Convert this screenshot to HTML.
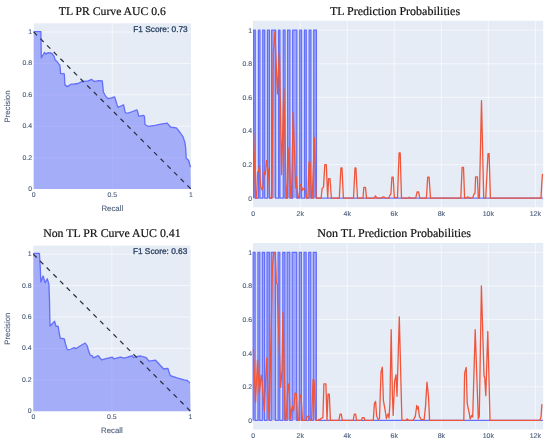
<!DOCTYPE html>
<html lang="en">
<head>
<meta charset="utf-8">
<title>PR Curves and Prediction Probabilities</title>
<style>
html,body{margin:0;padding:0;background:#fff;}
body{width:550px;height:445px;overflow:hidden;}
svg{display:block;}
text{text-rendering:geometricPrecision;}
.gr{stroke:#fff;stroke-width:0.6;}
.tk{font-family:"Liberation Sans",sans-serif;font-size:6.9px;fill:#2a3f5f;stroke:#2a3f5f;stroke-width:.12;opacity:.85;}
.ax{font-family:"Liberation Sans",sans-serif;font-size:7.8px;fill:#2a3f5f;stroke:#2a3f5f;stroke-width:.12;opacity:.85;}
.an{font-family:"Liberation Sans",sans-serif;font-size:8.3px;fill:#2a3f5f;stroke:#2a3f5f;stroke-width:.3;}
.ti{font-family:"Liberation Serif",serif;fill:#111;stroke:#111;stroke-width:.2;}
</style>
</head>
<body>
<svg width="550" height="445" viewBox="0 0 550 445">
<rect width="550" height="445" fill="#fff"/>
<rect x="33.7" y="23.4" width="157.2" height="165.6" fill="#E5ECF6"/>
<line x1="33.7" x2="190.9" y1="157.6" y2="157.6" class="gr"/>
<line x1="33.7" x2="190.9" y1="126.2" y2="126.2" class="gr"/>
<line x1="33.7" x2="190.9" y1="94.8" y2="94.8" class="gr"/>
<line x1="33.7" x2="190.9" y1="63.4" y2="63.4" class="gr"/>
<line x1="33.7" x2="190.9" y1="32" y2="32" class="gr"/>
<line x1="112.3" x2="112.3" y1="23.4" y2="189" class="gr"/>
<path d="M33.7,31.7 L40.9,31.7 L41.3,57.8 L43,55 L44.6,52.4 L45.8,54.2 L47.8,52.7 L50,53 L51.9,53.5 L54.1,56.4 L55.1,60 L57,61.5 L58.5,63.7 L59.9,65.1 L60.6,73.4 L64.3,73.8 L64.9,84.9 L67.4,86.6 L70.9,84.2 L74.5,84 L78.2,83.5 L81.1,81.9 L84,81.4 L88.2,80.8 L91.8,79.4 L93.4,81 L95.2,81.4 L98.6,80.6 L102.3,80.8 L103.4,92 L105,95 L106.7,97.5 L108.5,98.7 L111.5,97.8 L114.5,96.8 L115.6,100 L116.9,104.4 L118,107.3 L120.8,106 L123.6,104.8 L124.2,108 L125.2,112.3 L126.5,113.2 L128.1,113.2 L132.5,111.5 L137,109.9 L137.8,112.5 L138.7,116.2 L141,115.8 L143.2,115.4 L144.4,116 L145,124.5 L146.5,125.5 L148.5,126.3 L155,125.3 L161,124.2 L167.3,123.1 L169,125.3 L170.8,127.2 L173.5,127.5 L176.3,127.9 L178.4,130.3 L180.4,133 L183.1,136.9 L184.9,142.5 L185.7,148.5 L186.2,158.2 L188.7,160.5 L189.6,164 L190.5,167.2 L190.9,189 L33.7,189 Z" fill="rgba(99,110,250,0.5)"/>
<path d="M33.7,31.7 L40.9,31.7 L41.3,57.8 L43,55 L44.6,52.4 L45.8,54.2 L47.8,52.7 L50,53 L51.9,53.5 L54.1,56.4 L55.1,60 L57,61.5 L58.5,63.7 L59.9,65.1 L60.6,73.4 L64.3,73.8 L64.9,84.9 L67.4,86.6 L70.9,84.2 L74.5,84 L78.2,83.5 L81.1,81.9 L84,81.4 L88.2,80.8 L91.8,79.4 L93.4,81 L95.2,81.4 L98.6,80.6 L102.3,80.8 L103.4,92 L105,95 L106.7,97.5 L108.5,98.7 L111.5,97.8 L114.5,96.8 L115.6,100 L116.9,104.4 L118,107.3 L120.8,106 L123.6,104.8 L124.2,108 L125.2,112.3 L126.5,113.2 L128.1,113.2 L132.5,111.5 L137,109.9 L137.8,112.5 L138.7,116.2 L141,115.8 L143.2,115.4 L144.4,116 L145,124.5 L146.5,125.5 L148.5,126.3 L155,125.3 L161,124.2 L167.3,123.1 L169,125.3 L170.8,127.2 L173.5,127.5 L176.3,127.9 L178.4,130.3 L180.4,133 L183.1,136.9 L184.9,142.5 L185.7,148.5 L186.2,158.2 L188.7,160.5 L189.6,164 L190.5,167.2" fill="none" stroke="#636EFA" stroke-width="1.3" stroke-linejoin="round"/>
<line x1="33.7" y1="32" x2="190.9" y2="189" stroke="#2c3142" stroke-width="1.25" stroke-dasharray="4.72 4.72"/>
<text x="32" y="191" class="tk" text-anchor="end">0</text>
<text x="32" y="159.6" class="tk" text-anchor="end">0.2</text>
<text x="32" y="128.2" class="tk" text-anchor="end">0.4</text>
<text x="32" y="96.8" class="tk" text-anchor="end">0.6</text>
<text x="32" y="65.4" class="tk" text-anchor="end">0.8</text>
<text x="32" y="34" class="tk" text-anchor="end">1</text>
<text x="33.7" y="196.7" class="tk" text-anchor="middle">0</text>
<text x="112.3" y="196.7" class="tk" text-anchor="middle">0.5</text>
<text x="190.9" y="196.7" class="tk" text-anchor="middle">1</text>
<text x="112.3" y="211" class="ax" text-anchor="middle">Recall</text>
<text transform="translate(10.3,106.5) rotate(-90)" class="ax" text-anchor="middle">Precision</text>
<text x="187.7" y="32" class="an" text-anchor="end">F1 Score: 0.73</text>
<text x="112.3" y="15" class="ti" font-size="11.7" text-anchor="middle">TL PR Curve AUC 0.6</text>
<rect x="253" y="20.8" width="290.2" height="186.5" fill="#E5ECF6"/>
<line x1="253" x2="543.2" y1="164.6" y2="164.6" class="gr"/>
<line x1="253" x2="543.2" y1="131" y2="131" class="gr"/>
<line x1="253" x2="543.2" y1="97.4" y2="97.4" class="gr"/>
<line x1="253" x2="543.2" y1="63.8" y2="63.8" class="gr"/>
<line x1="253" x2="543.2" y1="30.2" y2="30.2" class="gr"/>
<line x1="300.22" x2="300.22" y1="20.8" y2="207.3" class="gr"/>
<line x1="347.24" x2="347.24" y1="20.8" y2="207.3" class="gr"/>
<line x1="394.26" x2="394.26" y1="20.8" y2="207.3" class="gr"/>
<line x1="441.28" x2="441.28" y1="20.8" y2="207.3" class="gr"/>
<line x1="488.3" x2="488.3" y1="20.8" y2="207.3" class="gr"/>
<line x1="535.32" x2="535.32" y1="20.8" y2="207.3" class="gr"/>
<line x1="253" x2="543.2" y1="198.2" y2="198.2" stroke="#fff" stroke-width="1"/>
<rect x="253.1" y="30.2" width="63.8" height="168" fill="rgba(99,110,250,0.10)"/>
<path d="M253.6,198.2 L253.6,30.2 L255.25,30.2 L255.25,198.2 L258.4,198.2 L258.4,30.2 L259.95,30.2 L259.95,198.2 L262.75,198.2 L262.75,30.2 L264.75,30.2 L264.75,198.2 L267.45,198.2 L267.45,30.2 L269.45,30.2 L269.45,198.2 L271.65,198.2 L271.65,30.2 L275.65,30.2 L275.65,198.2 L278.55,198.2 L278.55,30.2 L279.95,30.2 L279.95,198.2 L283.25,198.2 L283.25,30.2 L285.05,30.2 L285.05,198.2 L287.6,198.2 L287.6,30.2 L289.95,30.2 L289.95,198.2 L292.65,198.2 L292.65,30.2 L296.85,30.2 L296.85,198.2 L299.75,198.2 L299.75,30.2 L301.55,30.2 L301.55,198.2 L304.45,198.2 L304.45,30.2 L306.25,30.2 L306.25,198.2 L309.15,198.2 L309.15,30.2 L310.95,30.2 L310.95,198.2 L313.75,198.2 L313.75,30.2 L316.45,30.2 L316.45,198.2 L542.9,198.2" fill="rgba(99,110,250,0.5)" stroke="#636EFA" stroke-width="1.2" stroke-linejoin="miter"/>
<path d="M253.5,132.68 L254.5,164.6 L255.7,198.2 L256.5,198.2 L257.6,172.16 L258.5,171.32 L259.5,165.27 L260.6,186.44 L262,189.8 L263,186.44 L264.3,171.32 L265.3,174.68 L266.6,160.4 L267.7,167.96 L268.4,169.64 L269.8,198.2 L271.9,198.2 L273.3,53.72 L274.9,31.88 L277.4,94.04 L279.4,52.04 L281.6,174.68 L283.8,89 L286.3,198.2 L287,198.2 L288.9,147.8 L290.9,198.2 L291.5,198.2 L293.1,112.52 L295.7,188.12 L296.4,177.2 L297.7,198.2 L299,196.52 L300.2,184.76 L301.5,186.44 L302.5,190.3 L303.5,188.46 L305.2,188.96 L306.6,198.2 L307.9,198.2 L309,161.91 L310,161.91 L311.4,198.2 L312.2,198.2 L314.4,137.72 L316.1,198.2 L321.1,198.2 L322.1,188.46 L323.5,187.11 L324.8,164.6 L326.3,164.6 L327.7,198.2 L328.6,178.54 L330,178.54 L331.4,198.2 L339.3,198.2 L340.9,167.96 L342,167.96 L343.4,198.2 L353.5,198.2 L355,167.96 L355.9,167.96 L357.5,198.2 L363,198.2 L363.8,187.45 L365.5,187.45 L366.5,198.2 L374.3,198.2 L375.4,195.85 L377,198.2 L380.5,198.2 L383.6,196.86 L386,198.2 L388.9,198.2 L389.8,195.34 L390.9,194 L391.9,177.2 L393.2,177.2 L394.3,197.53 L397.5,197.53 L399.1,152.84 L400.2,152.84 L401.5,198.2 L408,198.2 L409.3,197.19 L410.7,198.2 L415.7,198.2 L417.1,191.98 L418.6,191.98 L419.8,198.2 L426.4,198.2 L427.7,177.2 L429.1,177.2 L430.5,198.2 L460.8,198.2 L462.1,167.29 L463.5,167.29 L464.6,198.2 L466.2,198.2 L467.5,196.86 L470.2,198.2 L472.9,197.53 L474,194 L475,193.16 L475.6,176.86 L477.4,176.86 L478.3,198.2 L479.4,198.2 L481.5,100.76 L483.7,198.2 L485.7,198.2 L488,153.68 L489.1,153.68 L490.4,198.2 L541,198.2 L541.8,183.08 L542.5,173.84" fill="none" stroke="#EF553B" stroke-width="1.3" stroke-linejoin="round"/>
<text x="252" y="200.6" class="tk" text-anchor="end">0</text>
<text x="252" y="167" class="tk" text-anchor="end">0.2</text>
<text x="252" y="133.4" class="tk" text-anchor="end">0.4</text>
<text x="252" y="99.8" class="tk" text-anchor="end">0.6</text>
<text x="252" y="66.2" class="tk" text-anchor="end">0.8</text>
<text x="252" y="32.6" class="tk" text-anchor="end">1</text>
<text x="253.2" y="215.7" class="tk" text-anchor="middle">0</text>
<text x="300.22" y="215.7" class="tk" text-anchor="middle">2k</text>
<text x="347.24" y="215.7" class="tk" text-anchor="middle">4k</text>
<text x="394.26" y="215.7" class="tk" text-anchor="middle">6k</text>
<text x="441.28" y="215.7" class="tk" text-anchor="middle">8k</text>
<text x="488.3" y="215.7" class="tk" text-anchor="middle">10k</text>
<text x="535.32" y="215.7" class="tk" text-anchor="middle">12k</text>
<text x="395" y="14.6" class="ti" font-size="12" text-anchor="middle">TL Prediction Probabilities</text>
<rect x="33.3" y="245.6" width="157.2" height="165.6" fill="#E5ECF6"/>
<line x1="33.3" x2="190.5" y1="379.8" y2="379.8" class="gr"/>
<line x1="33.3" x2="190.5" y1="348.4" y2="348.4" class="gr"/>
<line x1="33.3" x2="190.5" y1="317" y2="317" class="gr"/>
<line x1="33.3" x2="190.5" y1="285.6" y2="285.6" class="gr"/>
<line x1="33.3" x2="190.5" y1="254.2" y2="254.2" class="gr"/>
<line x1="111.9" x2="111.9" y1="245.6" y2="411.2" class="gr"/>
<path d="M33.3,253.4 L39.4,253.4 L40.3,268 L40.8,282.1 L43.1,276 L45.1,282.8 L47.3,278.7 L48.9,284.1 L49.5,300 L49.8,318 L50.1,326 L52.5,323.5 L54.6,321.3 L55.9,326 L58.2,326.5 L59,332 L60.2,338.1 L64.3,338.8 L65.5,344 L67,348.9 L68.3,350 L71,349 L74.4,347.6 L75.7,348.7 L80,346 L85.2,343 L87.3,346 L88.3,350 L90.1,355 L92.1,355.7 L93.5,357.8 L98.2,355.7 L100,358 L101.6,359.8 L107,358.3 L112.4,357.1 L113.7,358.8 L120.4,357.1 L124.5,358.2 L128,357 L132.6,355.7 L133.3,357.6 L137,356.5 L140.8,356 L146.2,357.6 L148.9,361.2 L155.6,360.2 L159.5,364.5 L163.7,369 L167.8,368.3 L169,372 L170.4,375.7 L177,377.8 L183.9,379.8 L187.3,380.5 L190,383.1 L190.5,411.2 L33.3,411.2 Z" fill="rgba(99,110,250,0.5)"/>
<path d="M33.3,253.4 L39.4,253.4 L40.3,268 L40.8,282.1 L43.1,276 L45.1,282.8 L47.3,278.7 L48.9,284.1 L49.5,300 L49.8,318 L50.1,326 L52.5,323.5 L54.6,321.3 L55.9,326 L58.2,326.5 L59,332 L60.2,338.1 L64.3,338.8 L65.5,344 L67,348.9 L68.3,350 L71,349 L74.4,347.6 L75.7,348.7 L80,346 L85.2,343 L87.3,346 L88.3,350 L90.1,355 L92.1,355.7 L93.5,357.8 L98.2,355.7 L100,358 L101.6,359.8 L107,358.3 L112.4,357.1 L113.7,358.8 L120.4,357.1 L124.5,358.2 L128,357 L132.6,355.7 L133.3,357.6 L137,356.5 L140.8,356 L146.2,357.6 L148.9,361.2 L155.6,360.2 L159.5,364.5 L163.7,369 L167.8,368.3 L169,372 L170.4,375.7 L177,377.8 L183.9,379.8 L187.3,380.5 L190,383.1" fill="none" stroke="#636EFA" stroke-width="1.3" stroke-linejoin="round"/>
<line x1="33.3" y1="254.2" x2="190.5" y2="411.2" stroke="#2c3142" stroke-width="1.25" stroke-dasharray="4.72 4.72"/>
<text x="31.6" y="413.2" class="tk" text-anchor="end">0</text>
<text x="31.6" y="381.8" class="tk" text-anchor="end">0.2</text>
<text x="31.6" y="350.4" class="tk" text-anchor="end">0.4</text>
<text x="31.6" y="319" class="tk" text-anchor="end">0.6</text>
<text x="31.6" y="287.6" class="tk" text-anchor="end">0.8</text>
<text x="31.6" y="256.2" class="tk" text-anchor="end">1</text>
<text x="33.3" y="418.9" class="tk" text-anchor="middle">0</text>
<text x="111.9" y="418.9" class="tk" text-anchor="middle">0.5</text>
<text x="190.5" y="418.9" class="tk" text-anchor="middle">1</text>
<text x="111.9" y="433.2" class="ax" text-anchor="middle">Recall</text>
<text transform="translate(10.3,328.7) rotate(-90)" class="ax" text-anchor="middle">Precision</text>
<text x="187.3" y="254.2" class="an" text-anchor="end">F1 Score: 0.63</text>
<text x="111.9" y="237.2" class="ti" font-size="11.85" text-anchor="middle">Non TL PR Curve AUC 0.41</text>
<rect x="253" y="243" width="290.2" height="186.5" fill="#E5ECF6"/>
<line x1="253" x2="543.2" y1="386.8" y2="386.8" class="gr"/>
<line x1="253" x2="543.2" y1="353.2" y2="353.2" class="gr"/>
<line x1="253" x2="543.2" y1="319.6" y2="319.6" class="gr"/>
<line x1="253" x2="543.2" y1="286" y2="286" class="gr"/>
<line x1="253" x2="543.2" y1="252.4" y2="252.4" class="gr"/>
<line x1="300.22" x2="300.22" y1="243" y2="429.5" class="gr"/>
<line x1="347.24" x2="347.24" y1="243" y2="429.5" class="gr"/>
<line x1="394.26" x2="394.26" y1="243" y2="429.5" class="gr"/>
<line x1="441.28" x2="441.28" y1="243" y2="429.5" class="gr"/>
<line x1="488.3" x2="488.3" y1="243" y2="429.5" class="gr"/>
<line x1="535.32" x2="535.32" y1="243" y2="429.5" class="gr"/>
<line x1="253" x2="543.2" y1="420.4" y2="420.4" stroke="#fff" stroke-width="1"/>
<rect x="253.1" y="252.4" width="63.8" height="168" fill="rgba(99,110,250,0.10)"/>
<path d="M253.15,420.4 L253.15,252.4 L255.1,252.4 L255.1,420.4 L257.95,420.4 L257.95,252.4 L259.8,252.4 L259.8,420.4 L262.3,420.4 L262.3,252.4 L264.6,252.4 L264.6,420.4 L267,420.4 L267,252.4 L269.3,252.4 L269.3,420.4 L271.2,420.4 L271.2,252.4 L275.5,252.4 L275.5,420.4 L278.1,420.4 L278.1,252.4 L279.8,252.4 L279.8,420.4 L282.8,420.4 L282.8,252.4 L284.9,252.4 L284.9,420.4 L287.15,420.4 L287.15,252.4 L289.8,252.4 L289.8,420.4 L292.2,420.4 L292.2,252.4 L296.7,252.4 L296.7,420.4 L299.3,420.4 L299.3,252.4 L301.4,252.4 L301.4,420.4 L304,420.4 L304,252.4 L306.1,252.4 L306.1,420.4 L308.7,420.4 L308.7,252.4 L310.8,252.4 L310.8,420.4 L313.3,420.4 L313.3,252.4 L316.3,252.4 L316.3,420.4 L542.9,420.4" fill="rgba(99,110,250,0.5)" stroke="#636EFA" stroke-width="1.2" stroke-linejoin="miter"/>
<path d="M253.4,348.66 L254.5,378.4 L255.5,402.76 L257.5,360.26 L259.3,393.52 L261.2,375.04 L262,380.08 L263,395.2 L264.3,410.99 L266.6,358.24 L269.1,417.88 L269.3,420.4 L270.5,359.92 L271.9,295.24 L272.4,267.52 L273.5,254.08 L274.1,252.4 L275.2,253.24 L275.8,267.52 L276.3,283.31 L277.4,284.32 L277.6,302.8 L279.7,359.92 L280.7,387.47 L282,370 L283,312.38 L285.2,420.4 L286.2,418.72 L287.9,383.44 L288.9,387.47 L290.6,419.22 L291.6,409.65 L292.5,406.12 L293.6,410.99 L295,393.02 L296.4,393.52 L297.5,420.4 L298.8,420.4 L299.8,395.2 L301.1,395.7 L302.5,420.4 L305.9,420.4 L307.3,416.54 L308.9,415.86 L310,420.4 L311.6,420.4 L313.1,379.24 L314.1,380.58 L315.7,420.4 L318.2,420.4 L318.9,419.22 L320.2,419.9 L321.1,418.38 L322.9,417.71 L323.9,383.78 L325.9,383.78 L327,420.4 L328,394.19 L329.3,394.19 L330.4,420.4 L338.9,420.4 L340,414.18 L341.3,414.18 L342.3,420.4 L353.2,420.4 L354.3,414.18 L355.6,414.18 L356.6,420.4 L361.4,420.4 L362.3,417.71 L364.1,417.71 L365,420.4 L373.3,420.4 L374.4,403.6 L375.6,401.42 L376.6,415.7 L378,419.39 L379.5,418.72 L381,372.35 L382.3,367.14 L383.4,400.74 L385.3,411.16 L386.4,418.72 L387.2,415.7 L388.3,413.85 L389,417.88 L389.9,403.6 L391.2,329.68 L392.4,395.2 L393.2,415.36 L394.6,381.26 L396,374.54 L397,396.21 L399.3,316.91 L401.9,420.4 L405.8,420.4 L407.3,418.89 L408.7,420.4 L413.1,420.4 L415.3,416.37 L416.8,405.28 L417.5,408.98 L418.2,406.62 L419.4,416.37 L421.1,419.39 L424.1,419.73 L425.5,406.62 L427,382.1 L428.5,396.21 L429.6,420.4 L463.8,420.4 L464.6,373.36 L466.2,367.31 L467.2,403.6 L469.2,412.84 L470.2,419.06 L471.8,415.36 L472.7,417.04 L475.2,329.68 L478.3,419.06 L479.3,416.2 L481.4,286 L484,375.54 L484.8,378.4 L485.8,395.7 L487.8,331.36 L490,420.4 L539.9,420.4 L541,417.04 L541.9,404.1" fill="none" stroke="#EF553B" stroke-width="1.3" stroke-linejoin="round"/>
<text x="252" y="422.8" class="tk" text-anchor="end">0</text>
<text x="252" y="389.2" class="tk" text-anchor="end">0.2</text>
<text x="252" y="355.6" class="tk" text-anchor="end">0.4</text>
<text x="252" y="322" class="tk" text-anchor="end">0.6</text>
<text x="252" y="288.4" class="tk" text-anchor="end">0.8</text>
<text x="252" y="254.8" class="tk" text-anchor="end">1</text>
<text x="253.2" y="437.9" class="tk" text-anchor="middle">0</text>
<text x="300.22" y="437.9" class="tk" text-anchor="middle">2k</text>
<text x="347.24" y="437.9" class="tk" text-anchor="middle">4k</text>
<text x="394.26" y="437.9" class="tk" text-anchor="middle">6k</text>
<text x="441.28" y="437.9" class="tk" text-anchor="middle">8k</text>
<text x="488.3" y="437.9" class="tk" text-anchor="middle">10k</text>
<text x="535.32" y="437.9" class="tk" text-anchor="middle">12k</text>
<text x="394.2" y="236.8" class="ti" font-size="12" text-anchor="middle">Non TL Prediction Probabilities</text>
</svg>
</body>
</html>
